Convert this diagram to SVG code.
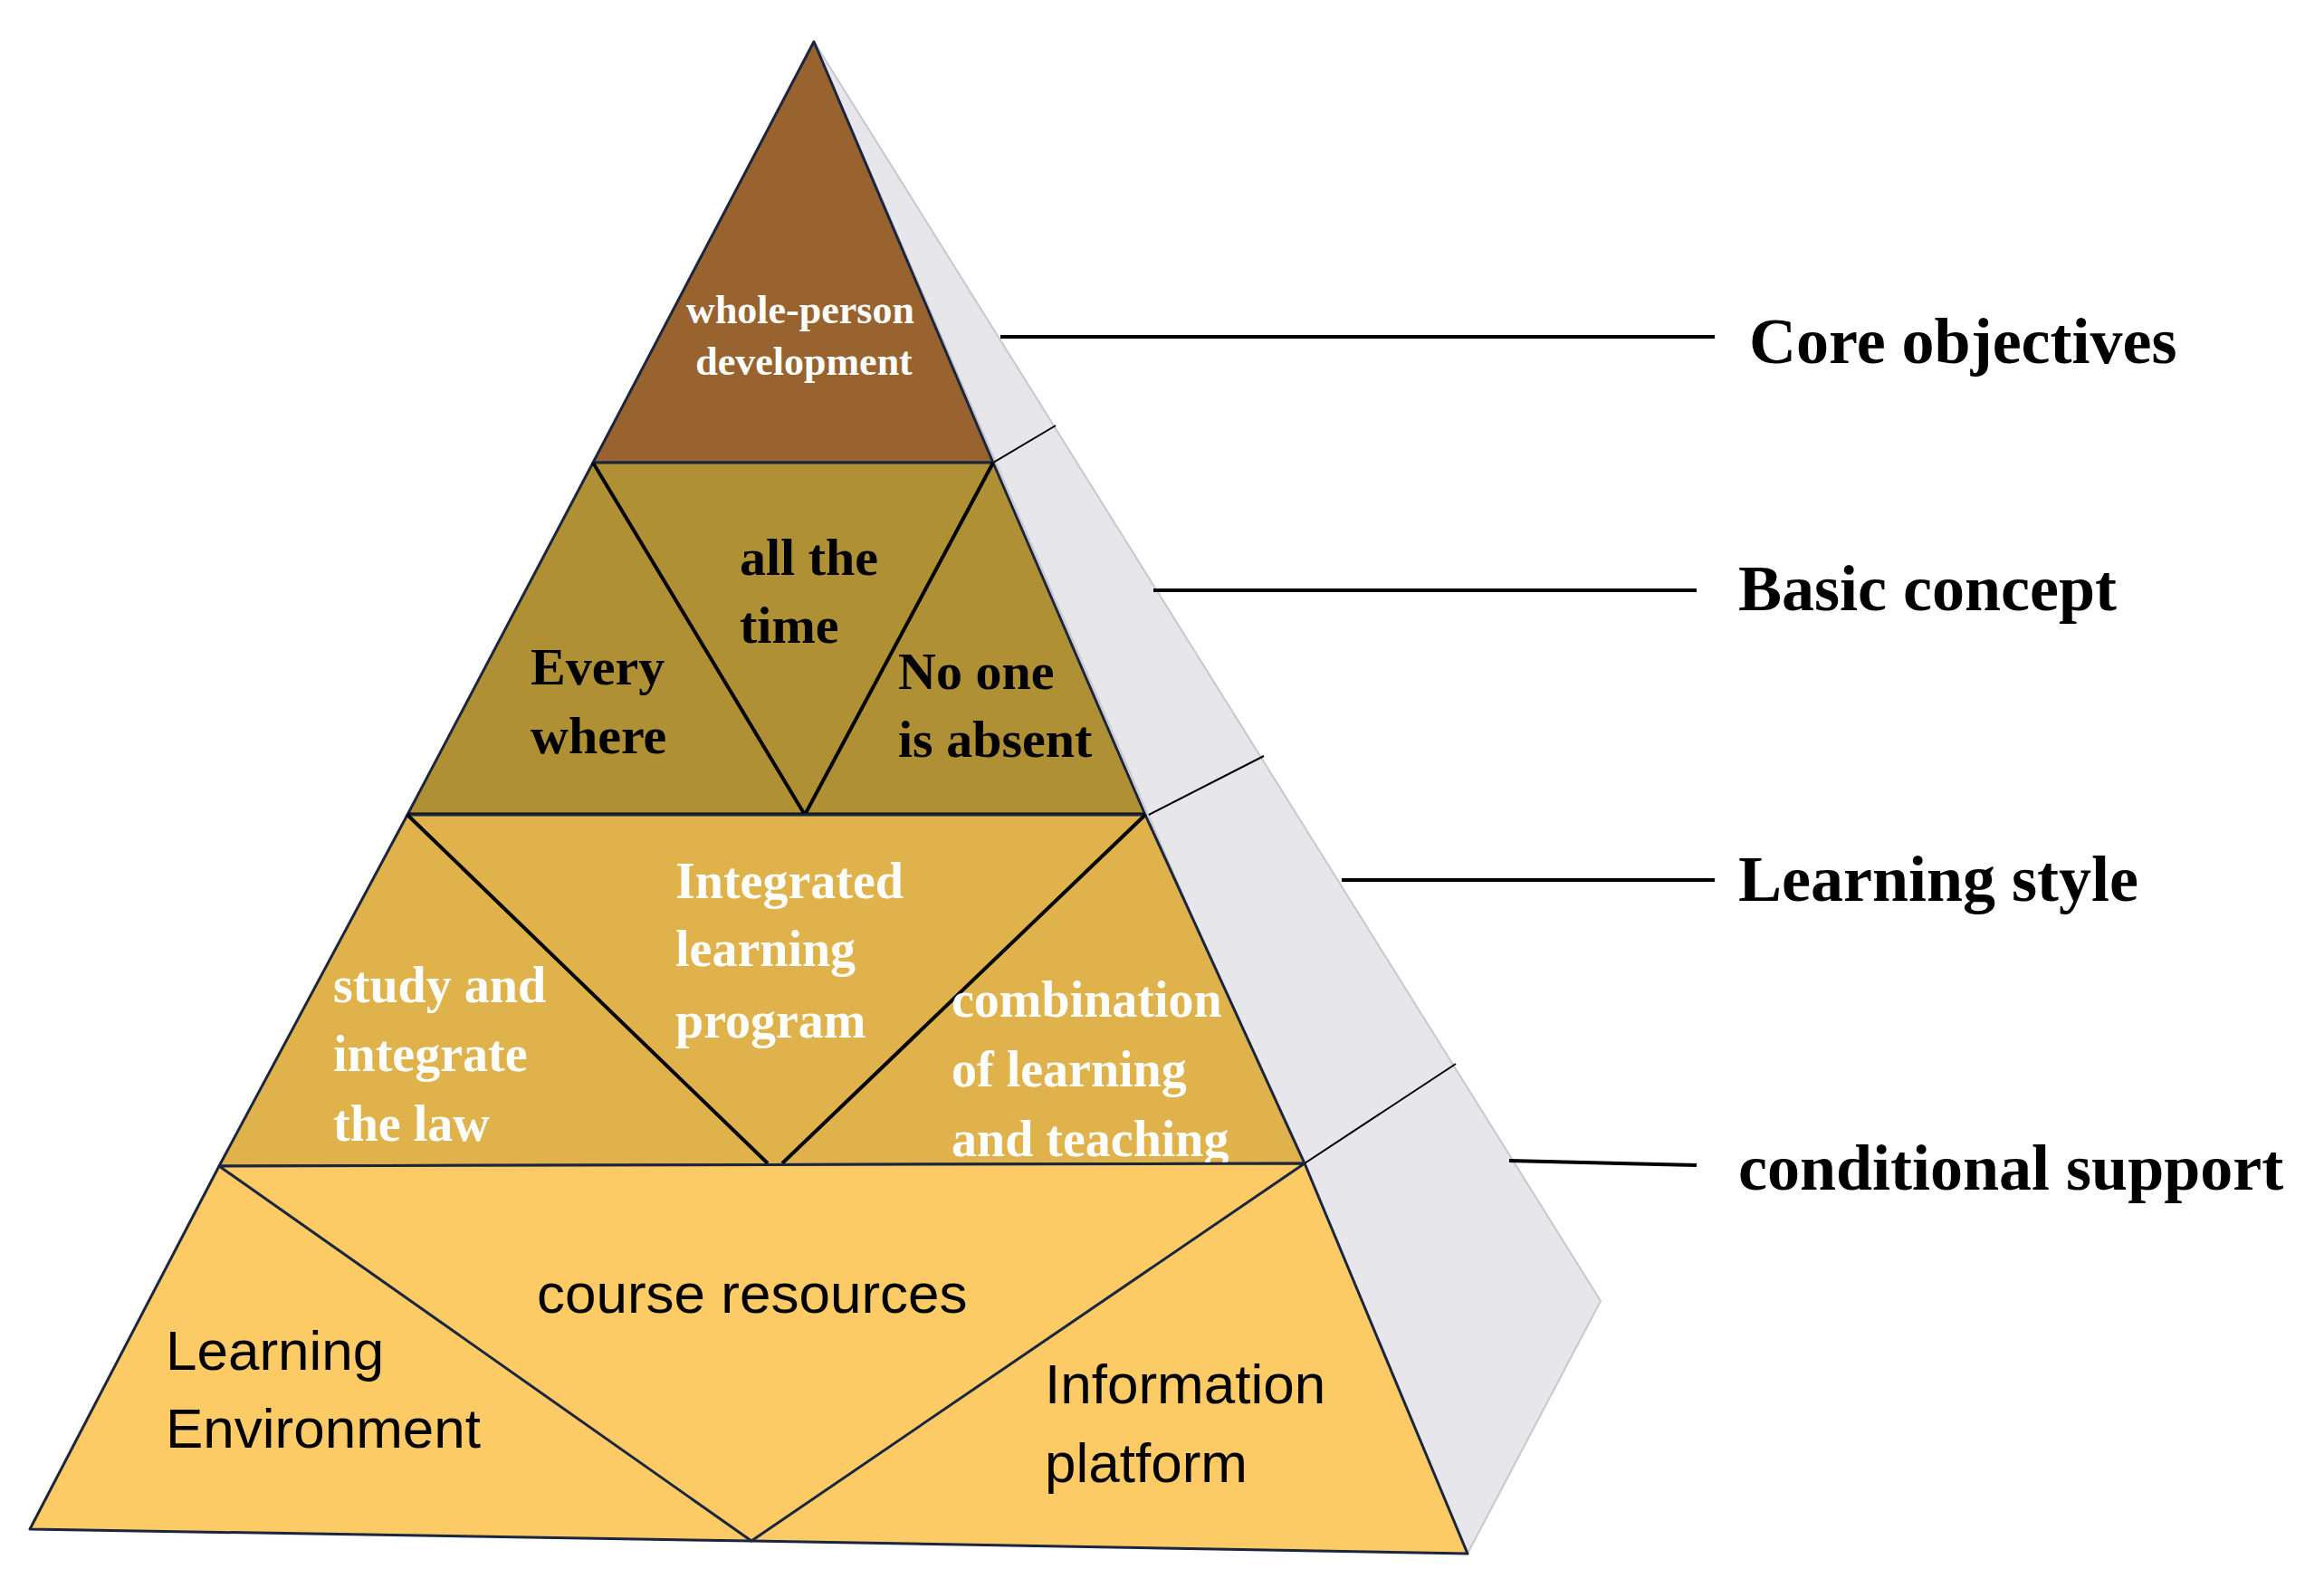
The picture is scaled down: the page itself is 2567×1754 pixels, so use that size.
<svg xmlns="http://www.w3.org/2000/svg" width="2567" height="1754" viewBox="0 0 2567 1754">
<style>
.o{stroke:#1a2540;stroke-width:3;stroke-linejoin:round}
.k{stroke:#000;stroke-width:4;fill:none}
.lab{font-family:"Liberation Serif",serif;font-weight:bold;font-size:72px;fill:#000}
.ws{font-family:"Liberation Serif",serif;font-weight:bold;fill:#fff}
.bs{font-family:"Liberation Serif",serif;font-weight:bold;font-size:58px;fill:#000}
.sn{font-family:"Liberation Sans",sans-serif;font-size:62px;fill:#000}
</style>
<defs><clipPath id="c3"><polygon points="450,900 1265,900 1441,1285 242,1288"/></clipPath></defs>
<rect width="2567" height="1754" fill="#fff"/>
<g id="shadow">
<polygon points="899,46 1768,1437 1621,1716" fill="#E6E6EB" stroke="#c8c8cc" stroke-width="2"/>
<g stroke="#000" stroke-width="2"><line x1="1097" y1="511" x2="1166" y2="470"/><line x1="1269" y1="900" x2="1396" y2="835"/><line x1="1441" y1="1285" x2="1608" y2="1175"/></g>
</g>
<g id="core">
<polygon class="o" points="899,46 1097,511 655,511" fill="#98632F"/>
<text class="ws" font-size="44" x="884" y="357" text-anchor="middle">whole-person</text>
<text class="ws" font-size="44" x="888" y="414" text-anchor="middle">development</text>
</g>
<g id="basic">
<polygon class="o" points="655,511 1097,511 1265,900 450,900" fill="#B09034"/>
<polyline class="k" points="655,511 889,900 1097,511"/>
<line x1="450" y1="900" x2="1265" y2="900" stroke="#000" stroke-width="5"/>
<text class="bs" x="817" y="635">all the</text><text class="bs" x="817" y="710">time</text>
<text class="bs" x="586" y="756">Every</text><text class="bs" x="586" y="832">where</text>
<text class="bs" x="992" y="761">No one</text><text class="bs" x="992" y="836">is absent</text>
</g>
<g id="style">
<polygon class="o" points="450,900 1265,900 1441,1285 242,1288" fill="#DFB24B"/>
<polyline class="k" points="450,900 848,1285"/><polyline class="k" points="1265,900 864,1285"/>
<g clip-path="url(#c3)">
<text class="ws" font-size="56" x="746" y="992">Integrated</text><text class="ws" font-size="56" x="746" y="1067">learning</text><text class="ws" font-size="56" x="746" y="1146">program</text>
<text class="ws" font-size="56" x="368" y="1107">study and</text><text class="ws" font-size="56" x="368" y="1183">integrate</text><text class="ws" font-size="56" x="368" y="1260">the law</text>
<text class="ws" font-size="56" x="1051" y="1123">combination</text><text class="ws" font-size="56" x="1051" y="1200">of learning</text><text class="ws" font-size="56" x="1051" y="1277">and teaching</text>
</g>
</g>
<g id="support">
<polygon class="o" points="242,1288 1441,1285 1621,1716 830,1702 33,1689" fill="#FDCB65"/>
<polyline class="o" fill="none" points="242,1288 830,1702 1441,1285"/>
<text class="sn" x="593" y="1450">course resources</text>
<text class="sn" x="183" y="1513">Learning</text><text class="sn" x="183" y="1599">Environment</text>
<text class="sn" x="1154" y="1550">Information</text><text class="sn" x="1154" y="1637">platform</text>
</g>
<g id="connectors" stroke="#000" stroke-width="4">
<line x1="1105" y1="372" x2="1894" y2="372"/>
<line x1="1274" y1="652" x2="1874" y2="652"/>
<line x1="1482" y1="972" x2="1894" y2="972"/>
<line x1="1667" y1="1282" x2="1874" y2="1287"/>
</g>
<g id="labels">
<text class="lab" x="1932" y="401">Core objectives</text>
<text class="lab" x="1920" y="674">Basic concept</text>
<text class="lab" x="1920" y="995">Learning style</text>
<text class="lab" x="1920" y="1314">conditional support</text>
</g>
</svg>
